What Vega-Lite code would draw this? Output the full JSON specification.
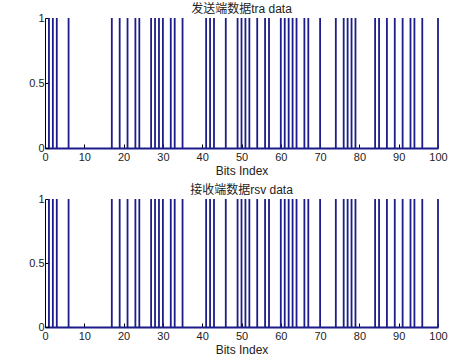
{
  "$schema": "https://vega.github.io/schema/vega-lite/v6.json",
  "background": "white",
  "padding": {"left": 28, "top": 3, "right": 10, "bottom": 0},
  "data": {"values": [
    {"i":0,"tra":0,"rsv":0},{"i":1,"tra":1,"rsv":1},{"i":2,"tra":1,"rsv":1},{"i":3,"tra":1,"rsv":1},{"i":4,"tra":0,"rsv":0},
    {"i":5,"tra":0,"rsv":0},{"i":6,"tra":1,"rsv":1},{"i":7,"tra":0,"rsv":0},{"i":8,"tra":0,"rsv":0},{"i":9,"tra":0,"rsv":0},
    {"i":10,"tra":0,"rsv":0},{"i":11,"tra":0,"rsv":0},{"i":12,"tra":0,"rsv":0},{"i":13,"tra":0,"rsv":0},{"i":14,"tra":0,"rsv":0},
    {"i":15,"tra":0,"rsv":0},{"i":16,"tra":0,"rsv":0},{"i":17,"tra":1,"rsv":1},{"i":18,"tra":0,"rsv":0},{"i":19,"tra":1,"rsv":1},
    {"i":20,"tra":0,"rsv":0},{"i":21,"tra":1,"rsv":1},{"i":22,"tra":0,"rsv":0},{"i":23,"tra":1,"rsv":1},{"i":24,"tra":1,"rsv":1},
    {"i":25,"tra":0,"rsv":0},{"i":26,"tra":0,"rsv":0},{"i":27,"tra":1,"rsv":1},{"i":28,"tra":1,"rsv":1},{"i":29,"tra":1,"rsv":1},
    {"i":30,"tra":1,"rsv":1},{"i":31,"tra":0,"rsv":0},{"i":32,"tra":1,"rsv":1},{"i":33,"tra":1,"rsv":1},{"i":34,"tra":0,"rsv":0},
    {"i":35,"tra":1,"rsv":1},{"i":36,"tra":0,"rsv":0},{"i":37,"tra":0,"rsv":0},{"i":38,"tra":0,"rsv":0},{"i":39,"tra":0,"rsv":0},
    {"i":40,"tra":0,"rsv":0},{"i":41,"tra":1,"rsv":1},{"i":42,"tra":1,"rsv":1},{"i":43,"tra":1,"rsv":1},{"i":44,"tra":0,"rsv":0},
    {"i":45,"tra":0,"rsv":0},{"i":46,"tra":1,"rsv":1},{"i":47,"tra":0,"rsv":0},{"i":48,"tra":0,"rsv":0},{"i":49,"tra":1,"rsv":1},
    {"i":50,"tra":1,"rsv":1},{"i":51,"tra":1,"rsv":1},{"i":52,"tra":1,"rsv":1},{"i":53,"tra":0,"rsv":0},{"i":54,"tra":1,"rsv":1},
    {"i":55,"tra":0,"rsv":0},{"i":56,"tra":1,"rsv":1},{"i":57,"tra":1,"rsv":1},{"i":58,"tra":0,"rsv":0},{"i":59,"tra":0,"rsv":0},
    {"i":60,"tra":1,"rsv":1},{"i":61,"tra":1,"rsv":1},{"i":62,"tra":1,"rsv":1},{"i":63,"tra":1,"rsv":1},{"i":64,"tra":1,"rsv":1},
    {"i":65,"tra":0,"rsv":0},{"i":66,"tra":1,"rsv":1},{"i":67,"tra":1,"rsv":1},{"i":68,"tra":0,"rsv":0},{"i":69,"tra":0,"rsv":0},
    {"i":70,"tra":1,"rsv":1},{"i":71,"tra":0,"rsv":0},{"i":72,"tra":0,"rsv":0},{"i":73,"tra":0,"rsv":0},{"i":74,"tra":1,"rsv":1},
    {"i":75,"tra":0,"rsv":0},{"i":76,"tra":1,"rsv":1},{"i":77,"tra":1,"rsv":1},{"i":78,"tra":1,"rsv":1},{"i":79,"tra":1,"rsv":1},
    {"i":80,"tra":0,"rsv":0},{"i":81,"tra":0,"rsv":0},{"i":82,"tra":0,"rsv":0},{"i":83,"tra":0,"rsv":0},{"i":84,"tra":1,"rsv":1},
    {"i":85,"tra":1,"rsv":1},{"i":86,"tra":0,"rsv":0},{"i":87,"tra":1,"rsv":1},{"i":88,"tra":0,"rsv":0},{"i":89,"tra":1,"rsv":1},
    {"i":90,"tra":0,"rsv":0},{"i":91,"tra":1,"rsv":1},{"i":92,"tra":0,"rsv":0},{"i":93,"tra":1,"rsv":1},{"i":94,"tra":1,"rsv":1},
    {"i":95,"tra":0,"rsv":0},{"i":96,"tra":1,"rsv":1},{"i":97,"tra":0,"rsv":0},{"i":98,"tra":0,"rsv":0},{"i":99,"tra":0,"rsv":0},
    {"i":100,"tra":1,"rsv":1}
  ]},
  "config": {
    "view": {"stroke": null},
    "font": "Liberation Sans",
    "axis": {
      "domainColor": "#000000",
      "domainWidth": 1,
      "tickColor": "#000000",
      "tickSize": -4,
      "labelPadding": 5,
      "labelFontSize": 11,
      "labelColor": "#222222",
      "labelOverlap": false,
      "labelFlush": false,
      "titleFontSize": 12,
      "titleFontWeight": "normal",
      "titleColor": "#222222",
      "grid": false
    },
    "title": {"fontSize": 12, "fontWeight": "normal", "color": "#222222", "font": "Liberation Sans, Noto Sans CJK SC", "offset": -4}
  },
  "spacing": 8,
  "vconcat": [
    {
      "width": 393,
      "height": 130,
      "title": {"text": "发送端数据tra data"},
      "mark": {"type": "rule", "color": "#1c1c8a", "strokeWidth": 1.8},
      "encoding": {
        "x": {"field": "i", "type": "quantitative", "scale": {"domain": [0, 100], "nice": false},
              "axis": {"values": [0,10,20,30,40,50,60,70,80,90,100], "tickCount": 11, "title": "Bits Index", "titlePadding": 3,
                       "domainColor": "#1c1c8a", "domainWidth": 2, "labelPadding": 7}},
        "y": {"field": "tra", "type": "quantitative", "scale": {"domain": [0, 1], "nice": false},
              "axis": {"values": [0, 0.5, 1], "format": "~g", "title": null}},
        "y2": {"datum": 0}
      }
    },
    {
      "width": 393,
      "height": 128,
      "title": {"text": "接收端数据rsv data"},
      "mark": {"type": "rule", "color": "#1c1c8a", "strokeWidth": 1.8},
      "encoding": {
        "x": {"field": "i", "type": "quantitative", "scale": {"domain": [0, 100], "nice": false},
              "axis": {"values": [0,10,20,30,40,50,60,70,80,90,100], "tickCount": 11, "title": "Bits Index", "titlePadding": 3,
                       "domainColor": "#1c1c8a", "domainWidth": 2, "labelPadding": 7}},
        "y": {"field": "rsv", "type": "quantitative", "scale": {"domain": [0, 1], "nice": false},
              "axis": {"values": [0, 0.5, 1], "format": "~g", "title": null}},
        "y2": {"datum": 0}
      }
    }
  ]
}
